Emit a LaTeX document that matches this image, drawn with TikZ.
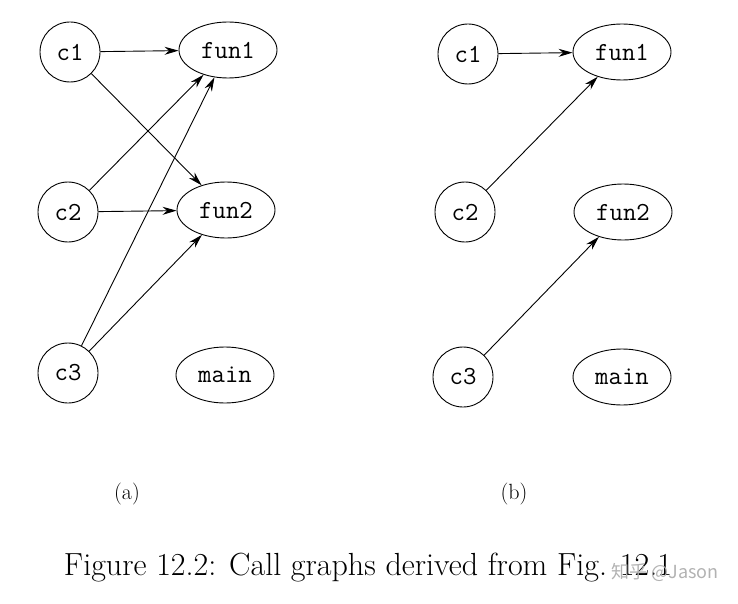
\documentclass[tikz,border=0pt]{standalone}
\usepackage{fontspec}
\newfontfamily\cjk{Noto Sans CJK SC}
\usetikzlibrary{shapes.geometric,arrows.meta}
\begin{document}
\begin{tikzpicture}[x=1pt,y=-1pt,
  cn/.style={circle,draw,line width=0.9pt,minimum size=60pt,inner sep=0pt,font=\ttfamily\fontsize{26}{28}\selectfont},
  fn/.style={ellipse,draw,line width=0.9pt,minimum width=98pt,minimum height=56pt,inner sep=0pt,font=\ttfamily\fontsize{26}{28}\selectfont},
  ar/.style={-{Stealth[length=14pt,width=8pt]},line width=0.9pt}]
\useasboundingbox (0,0) rectangle (738,604);
\node[cn] (ac1) at (70,52) {c1};
\node[cn] (ac2) at (68,212) {c2};
\node[cn] (ac3) at (68,373) {c3};
\node[fn] (af1) at (228,50) {fun1};
\node[fn] (af2) at (226,210) {fun2};
\node[fn] (am) at (225,375) {main};
\draw[ar] (ac1) -- (af1);
\draw[ar] (ac1) -- (af2);
\draw[ar] (ac2) -- (af1);
\draw[ar] (ac2) -- (af2);
\draw[ar] (ac3) -- (af1);
\draw[ar] (ac3) -- (af2);
\node[cn] (bc1) at (468,54) {c1};
\node[cn] (bc2) at (465,212) {c2};
\node[cn] (bc3) at (463,377) {c3};
\node[fn] (bf1) at (622,52) {fun1};
\node[fn] (bf2) at (623,212) {fun2};
\node[fn] (bm) at (622,377) {main};
\draw[ar] (bc1) -- (bf1);
\draw[ar] (bc2) -- (bf1);
\draw[ar] (bc3) -- (bf2);
\node[font=\fontsize{22}{24}\selectfont] (la) at (127,494) {(a)};
\node[font=\fontsize{22}{24}\selectfont] (lb) at (514,494) {(b)};
\node[font=\fontsize{32}{34}\selectfont] (cap) at (368,568) {Figure 12.2: Call graphs derived from Fig. 12.1};
\node[font=\fontsize{18}{20}\cjk,text=gray!60,anchor=east] (wm) at (722,572) {知乎 @Jason};
\end{tikzpicture}
\end{document}
